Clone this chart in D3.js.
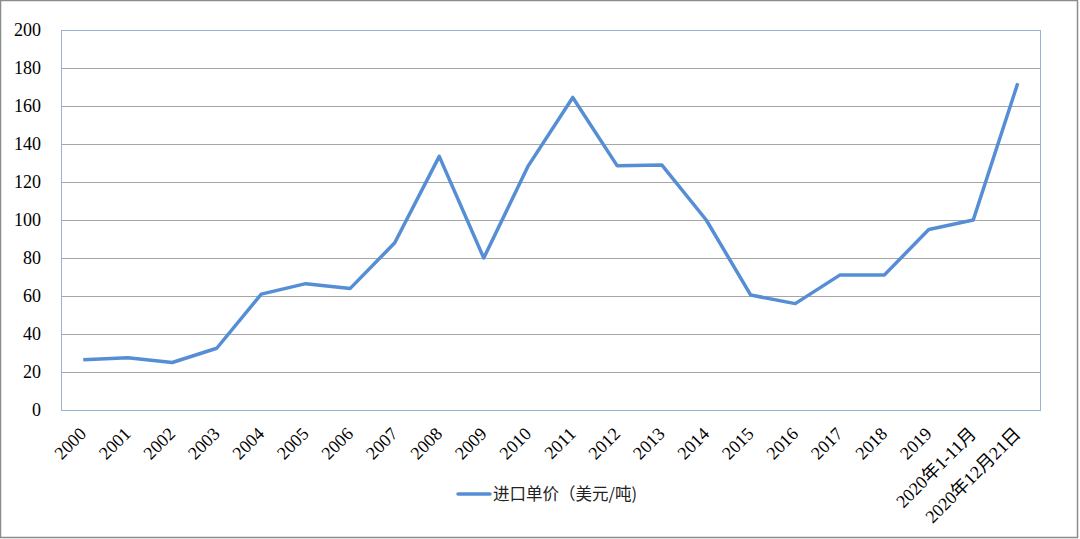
<!DOCTYPE html>
<html lang="zh">
<head>
<meta charset="utf-8">
<script src="https://d3js.org/d3.v7.min.js"></script>
<style>
  body { margin: 0; background: #fff; }
  svg { display: block; }
</style>
</head>
<body>
<script>
var categories = ["2000", "2001", "2002", "2003", "2004", "2005", "2006", "2007", "2008", "2009",
  "2010", "2011", "2012", "2013", "2014", "2015", "2016", "2017", "2018", "2019",
  "2020年1-11月", "2020年12月21日"];
var prices = [26.5, 27.5, 25, 32.5, 61, 66.5, 64, 88, 133.5, 80,
  128.5, 164.5, 128.5, 129, 100, 60.5, 56, 71, 71, 95, 100, 172];
var yTicks = [0, 20, 40, 60, 80, 100, 120, 140, 160, 180, 200];
var seriesName = "进口单价（美元/吨)";

var width = 1080, height = 539;
var margin = { top: 30, right: 40, bottom: 129, left: 61 };
var color = "#558ed5";

var svg = d3.select("body").append("svg")
  .attr("width", width)
  .attr("height", height);

// outer frame
svg.append("rect")
  .attr("x", 0.5).attr("y", 0.5)
  .attr("width", width - 3).attr("height", height - 2)
  .attr("fill", "#fff")
  .attr("stroke", "#8c8c8c")
  .attr("stroke-width", 1.5);

var x = d3.scaleBand()
  .domain(categories)
  .range([margin.left, width - margin.right]);

var y = d3.scaleLinear()
  .domain([0, 200])
  .range([height - margin.bottom, margin.top]);

// gridlines
svg.append("g")
  .selectAll("line")
  .data(yTicks.filter(function (d) { return d > 0 && d < 200; }))
  .enter().append("line")
  .attr("x1", margin.left).attr("x2", width - margin.right)
  .attr("y1", function (d) { return Math.round(y(d)) + 0.5; })
  .attr("y2", function (d) { return Math.round(y(d)) + 0.5; })
  .attr("stroke", "#a6a6a6")
  .attr("stroke-width", 1);

// plot area border
svg.append("rect")
  .attr("x", margin.left + 0.5).attr("y", margin.top + 0.5)
  .attr("width", width - margin.left - margin.right)
  .attr("height", height - margin.top - margin.bottom)
  .attr("fill", "none")
  .attr("stroke", "#95b3d7")
  .attr("stroke-width", 1);

// y axis labels
var yAxis = d3.axisLeft(y).tickValues(yTicks).tickSize(0).tickPadding(20);
svg.append("g")
  .attr("transform", "translate(" + margin.left + ",0)")
  .call(yAxis)
  .call(function (g) { g.select(".domain").remove(); })
  .selectAll("text")
  .attr("font-family", "'Liberation Serif', 'Times New Roman', serif")
  .attr("font-size", 18)
  .attr("fill", "#000");

// x axis labels
var xAxis = d3.axisBottom(x).tickSize(0).tickPadding(0);
svg.append("g")
  .attr("transform", "translate(0," + (height - margin.bottom) + ")")
  .call(xAxis)
  .call(function (g) { g.select(".domain").remove(); })
  .selectAll("text")
  .attr("font-family", "'Liberation Serif', 'Noto Sans CJK SC', serif")
  .attr("font-size", 18)
  .attr("fill", "#000")
  .attr("text-anchor", "end")
  .attr("dy", null)
  .attr("y", 0)
  .attr("transform", "translate(4,25) rotate(-45)");

// line
var line = d3.line()
  .x(function (d, i) { return x(categories[i]) + x.bandwidth() / 2; })
  .y(function (d) { return y(d); });

svg.append("path")
  .datum(prices)
  .attr("d", line)
  .attr("fill", "none")
  .attr("stroke", color)
  .attr("stroke-width", 3.5)
  .attr("stroke-linejoin", "round");

// legend
var legend = svg.append("g").attr("transform", "translate(458,494)");
legend.append("line")
  .attr("x1", 0).attr("x2", 32)
  .attr("stroke", color)
  .attr("stroke-width", 3.5)
  .attr("stroke-linecap", "round");
legend.append("text")
  .attr("x", 35).attr("y", 0)
  .attr("dy", "0.35em")
  .attr("font-family", "'Noto Sans CJK SC', sans-serif")
  .attr("font-size", 16.5)
  .attr("fill", "#222")
  .text(seriesName);
</script>
</body>
</html>
